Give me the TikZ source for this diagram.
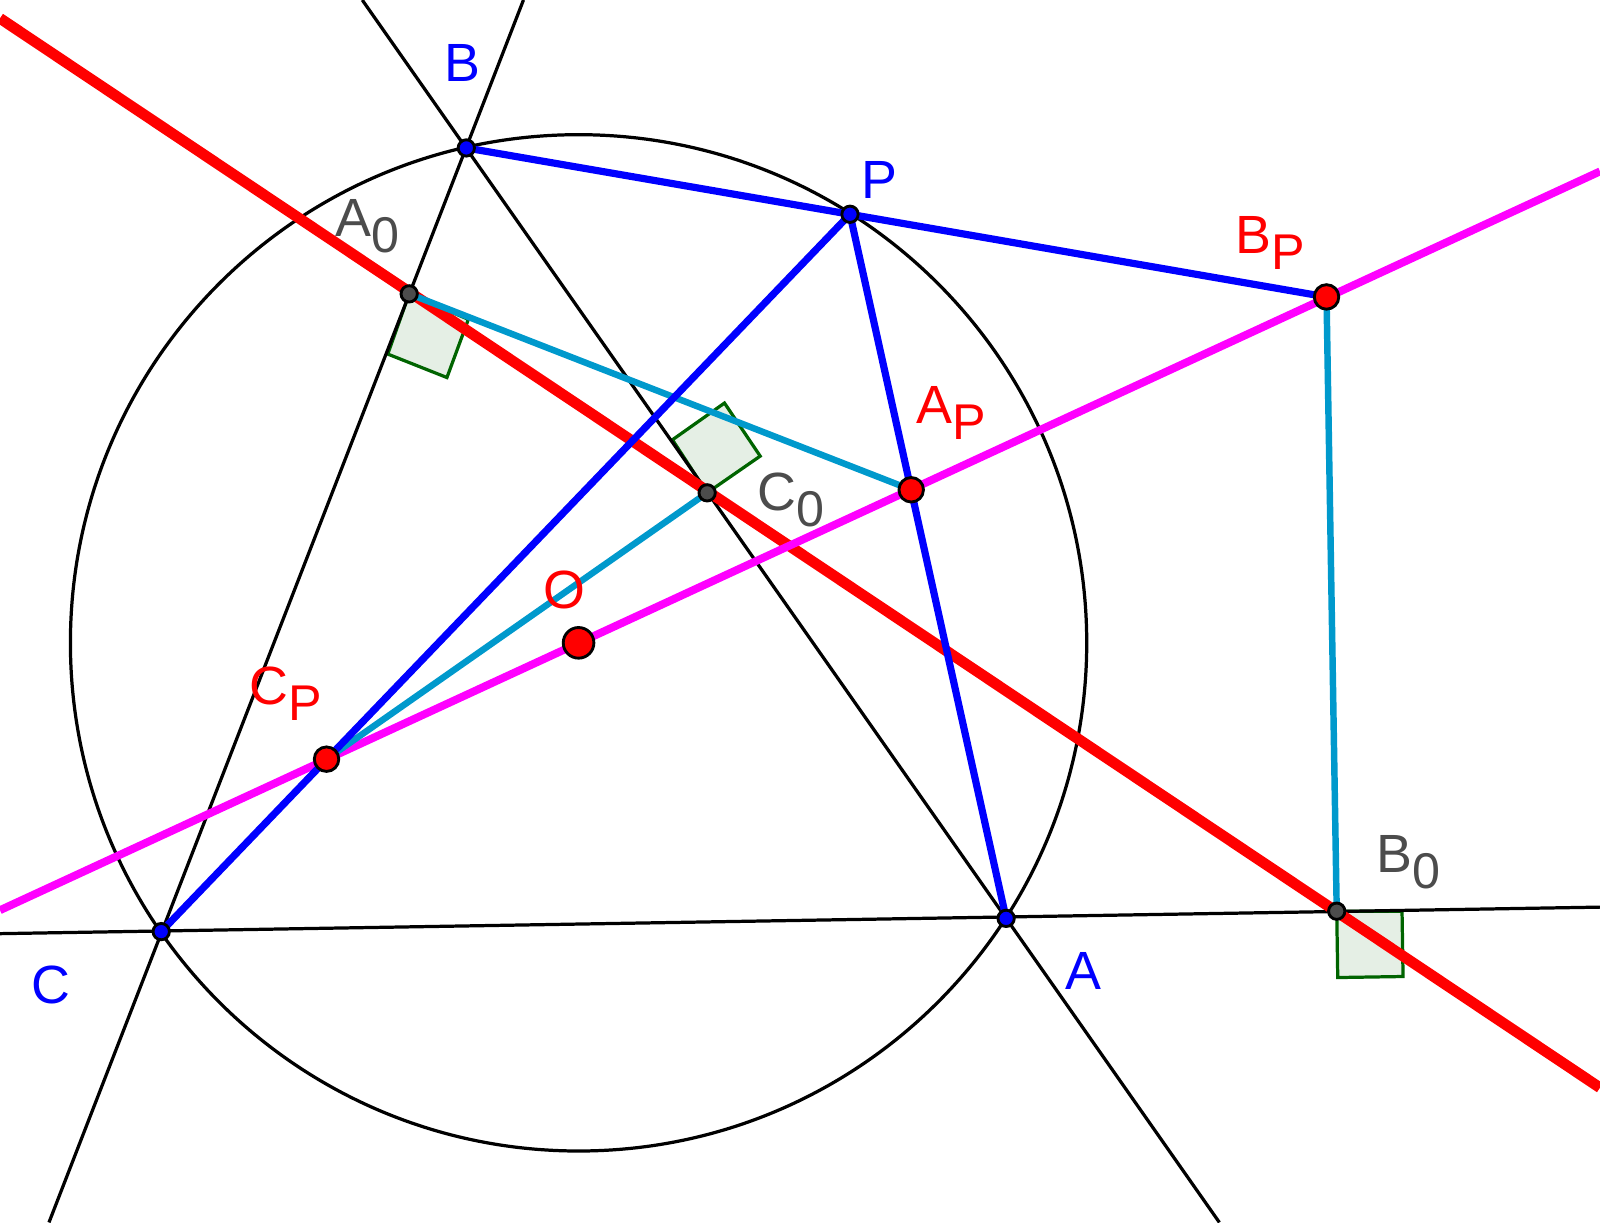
\documentclass[tikz,border=0pt]{standalone}
\usepackage{fontspec}
\setmainfont{Liberation Sans}
\definecolor{lblue}{RGB}{0,153,204}
\definecolor{dgreen}{RGB}{0,100,0}
\definecolor{mag}{RGB}{255,0,255}
\newcommand{\sbx}[1]{\raisebox{-0.55ex}{\fontsize{14}{16}\selectfont #1}}
\begin{document}
\begin{tikzpicture}[x=0.01cm,y=-0.01cm,
  pt/.style={circle,draw=black,line width=0.8pt,inner sep=0pt,minimum size=0.16cm},
  lbl/.style={font=\fontsize{15}{17}\selectfont},
  thin/.style={line width=0.9pt,black},
  sq/.style={draw=dgreen,fill=dgreen,fill opacity=0.1,line width=0.9pt}]
\useasboundingbox (0,0) rectangle (1568,1198);
\clip (0,0) rectangle (1568,1198);
% coordinates
\coordinate (B) at (457,145); \coordinate (P) at (833,210);
\coordinate (C) at (158,913); \coordinate (A) at (986,900);
\coordinate (O) at (567,630);
\coordinate (A0) at (401,288); \coordinate (C0) at (693,483); \coordinate (B0) at (1310,893);
\coordinate (AP) at (893,480); \coordinate (BP) at (1300,291); \coordinate (CP) at (320,744);
% right angle marks
\draw[sq] (A0)--(459,313)--(438,370)--(380,347)--cycle;
\draw[sq] (C0)--(745,447)--(710,395)--(659,431)--cycle;
\draw[sq] (B0)--(1374,893)--(1375,957)--(1311,958)--cycle;
% circle and triangle lines
\draw[thin] (O) circle (498);
\coordinate (e1) at (48,1198); \coordinate (e2) at (513,0);
\coordinate (e3) at (355,0); \coordinate (e4) at (1195,1198);
\coordinate (e5) at (0,915); \coordinate (e6) at (1568,889);
\draw[thin] (e1)--(e2);
\draw[thin] (e3)--(e4);
\draw[thin] (e5)--(e6);
% red and magenta lines
\coordinate (r1) at (0,18); \coordinate (r2) at (1568,1066);
\draw[red,line width=3pt] (r1)--(r2);
\coordinate (m1) at (0,892); \coordinate (m2) at (1568,168);
\draw[mag,line width=2.2pt] (m1)--(m2);
% light blue
\draw[lblue,line width=1.8pt] (A0)--(AP) (C0)--(CP) (BP)--(B0);
% blue
\draw[blue,line width=2pt] (B)--(P)--(BP) (P)--(A) (P)--(C);
% points
\foreach \p in {B,P,C,A} \node[pt,fill=blue] at (\p) {};
\foreach \p in {A0,C0,B0} \node[pt,fill=black!70] at (\p) {};
\foreach \p in {AP,BP,CP} \node[pt,fill=red,minimum size=0.24cm] at (\p) {};
\node[pt,fill=red,minimum size=0.3cm] (Od) at (O) {};
% labels
\node[lbl,blue] (lB) at (453,62) {B};
\node[lbl,blue] (lP) at (862,176) {P};
\node[lbl,blue] (lC) at (50,965) {C};
\node[lbl,blue] (lA) at (1062,952) {A};
\node[lbl,red] (lO) at (553,578) {O};
\node[lbl,red] (lBP) at (1245,238) {B\sbx{P}};
\node[lbl,red] (lAP) at (932,405) {A\sbx{P}};
\node[lbl,red] (lCP) at (280,680) {C\sbx{P}};
\node[lbl,black!70] (lA0) at (360,222) {A\sbx{0}};
\node[lbl,black!70] (lC0) at (775,490) {C\sbx{0}};
\node[lbl,black!70] (lB0) at (1380,845) {B\sbx{0}};
\end{tikzpicture}
\end{document}
